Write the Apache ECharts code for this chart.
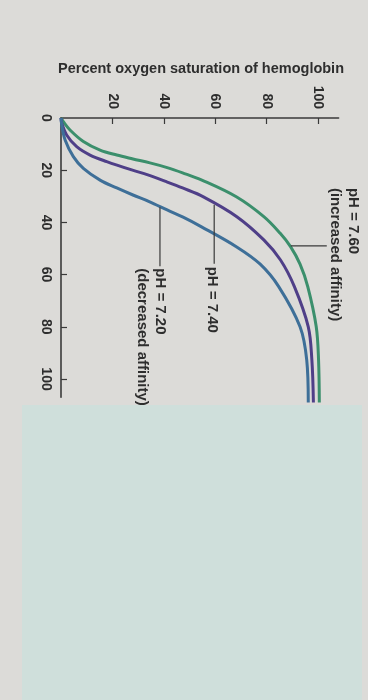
<!DOCTYPE html>
<html>
<head>
<meta charset="utf-8">
<script src="https://cdn.jsdelivr.net/npm/echarts@6/dist/echarts.min.js"></script>
<style>
html,body{margin:0;padding:0;background:#dcdbd8;}
#chart{width:368px;height:700px;}
</style>
</head>
<body>
<div id="chart"></div>
<script>
// ---- data ----
const titleText = 'Percent oxygen saturation of hemoglobin';
const satTicks = [20, 40, 60, 80, 100];
const po2Labels = [0, 20, 40, 60, 80, 100];
const po2Ticks = [20, 40, 60, 80, 100];

// pH 7.60 (increased affinity)
const po2Green = [0, 1.4, 4.6, 9, 12.3, 14.2, 15.7, 17.2, 19, 21, 23.8, 30.2, 37.8, 44.1, 49.3, 56, 64.6, 80, 92.7, 109];
const satGreen = [0, 0.9, 3.5, 8.7, 15.2, 21.7, 28, 34.6, 41.3, 47.3, 54.8, 68.2, 78.9, 85.2, 89.3, 93, 96, 99.3, 100.2, 100.5];
// pH 7.40
const po2Purple = [0, 2, 6.5, 11, 14.2, 16.7, 19.9, 21.8, 24.4, 26.8, 30.2, 37.8, 46.7, 54.4, 64.6, 80, 92.7, 109];
const satPurple = [0, 0.3, 2.2, 6.1, 11.3, 17.8, 27.5, 33.8, 41, 47.3, 55.4, 68.4, 78.9, 85.4, 90.8, 96.2, 97.6, 98.2];
// pH 7.20 (decreased affinity)
const po2Blue = [0, 2.7, 8.4, 14.8, 19.3, 23.8, 26.8, 29.5, 32, 35.2, 38, 41.6, 49.3, 56, 64.6, 80, 92.7, 109];
const satBlue = [0, 0.3, 1.6, 4.8, 8.7, 15.2, 21.7, 28, 34.3, 41.3, 47.5, 54.5, 68.2, 77.5, 84.7, 93, 95.6, 96.2];

// leader lines of the annotations
const leader760Sat = [89.4, 103.4], leader760Po2 = [49, 49];
const leader740Sat = [59.6, 59.6], leader740Po2 = [33.2, 55.8];
const leader720Sat = [38.5, 38.5], leader720Po2 = [34.2, 56.8];
const label760 = 'pH = 7.60\n(increased affinity)';
const label740 = 'pH = 7.40';
const label720 = 'pH = 7.20\n(decreased affinity)';

// ---- build ----
const zip = (xs, ys) => xs.map((x, i) => [x, ys[i]]);
const chart = echarts.init(document.getElementById('chart'), null, {renderer: 'canvas'});
const FONT = 'Liberation Sans, Arial, sans-serif';
const TXT = '#2e2e2e';
const AX = '#3a3a3a';

const curve = (name, xs, ys, color) => ({
  name, type: 'line', data: zip(xs, ys), smooth: 0.35, symbol: 'none', clip: false,
  lineStyle: {color, width: 3}, itemStyle: {color}, silent: true
});
const leader = (xs, ys) => ({
  type: 'line', data: zip(xs, ys), symbol: 'none', clip: false, silent: true,
  lineStyle: {color: AX, width: 1.2}
});
const bgRect = {type: 'rect', z: -10, silent: true, shape: {x: 22, y: 405, width: 340, height: 295}, style: {fill: '#cfdfdb'}};

chart.setOption({
  backgroundColor: '#dcdbd8',
  animation: false,
  title: {
    text: titleText, left: 58, top: 61, padding: 0,
    textStyle: {fontFamily: FONT, fontSize: 14.5, fontWeight: 'bold', color: TXT}
  },
  grid: {left: 61, top: 118, width: 277.6, height: 279.3, containLabel: false, outerBoundsMode: 'none'},
  xAxis: {
    type: 'value', position: 'top', min: 0, max: 108, interval: 20,
    axisLine: {show: true, lineStyle: {color: AX, width: 1.6}},
    axisTick: {show: true, inside: true, length: 6, lineStyle: {color: AX, width: 1.2}, customValues: satTicks},
    axisLabel: {show: true, rotate: -90, margin: 9, fontFamily: FONT, fontSize: 14, fontWeight: 'bold', color: TXT, customValues: satTicks},
    splitLine: {show: false}
  },
  yAxis: {
    type: 'value', inverse: true, min: 0, max: 107, interval: 20,
    axisLine: {show: true, lineStyle: {color: AX, width: 1.6}},
    axisTick: {show: true, inside: true, length: 6, lineStyle: {color: AX, width: 1.2}, customValues: po2Ticks},
    axisLabel: {show: true, rotate: -90, margin: 8, fontFamily: FONT, fontSize: 14, fontWeight: 'bold', color: TXT, customValues: po2Labels},
    splitLine: {show: false}
  },
  graphic: [bgRect],
  series: [
    curve('pH 7.60', satGreen, po2Green, '#3b8f6c'),
    curve('pH 7.40', satPurple, po2Purple, '#4f3f88'),
    curve('pH 7.20', satBlue, po2Blue, '#3e6f98'),
    leader(leader760Sat, leader760Po2),
    leader(leader740Sat, leader740Po2),
    leader(leader720Sat, leader720Po2)
  ]
});

// annotation texts, anchored to the leader line ends
const px = (s, p) => chart.convertToPixel({gridIndex: 0}, [s, p]);
const e760 = px(leader760Sat[1], leader760Po2[1]);
const e740 = px(leader740Sat[1], leader740Po2[1]);
const e720 = px(leader720Sat[1], leader720Po2[1]);
const LH = 17.5;
const annStyle = (text, va) => ({
  text, fill: TXT, font: 'bold 15px ' + FONT, textAlign: 'left', textVerticalAlign: va, lineHeight: LH
});
chart.setOption({
  graphic: [
    bgRect,
    {type: 'text', silent: true, x: e760[0] + 35, y: e760[1] - 58, rotation: -Math.PI / 2, style: annStyle(label760, 'top')},
    {type: 'text', silent: true, x: e740[0] - 2, y: e740[1] + 3, rotation: -Math.PI / 2, style: annStyle(label740, 'middle')},
    {type: 'text', silent: true, x: e720[0] + LH / 2, y: e720[1] + 2, rotation: -Math.PI / 2, style: annStyle(label720, 'top')}
  ]
});
</script>
</body>
</html>
